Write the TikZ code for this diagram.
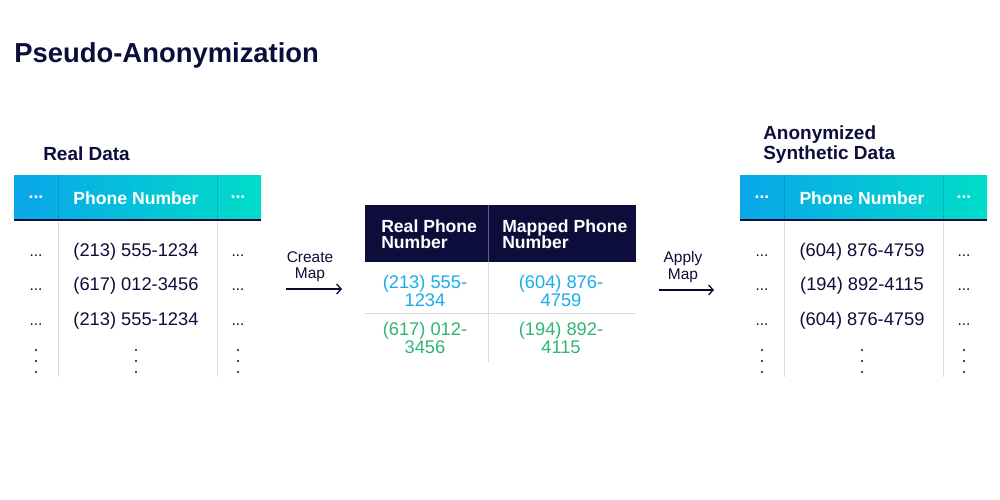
\documentclass[tikz,border=0pt]{standalone}
\usepackage{fontspec}
\setmainfont{Liberation Sans}
\usetikzlibrary{arrows.meta}
\definecolor{navy}{HTML}{0D0D3B}
\definecolor{hdleft}{HTML}{0AA6EA}
\definecolor{hdright}{HTML}{00DDC9}
\definecolor{rulegray}{HTML}{D9DBE2}
\definecolor{mapblue}{HTML}{1AADEE}
\definecolor{mapgreen}{HTML}{30B478}

\begin{document}
\begin{tikzpicture}[x=0.025cm, y=-0.025cm,
    txt/.style={text=navy, inner sep=0pt, font=\fontsize{13}{15}\selectfont},
    hdtxt/.style={text=white, inner sep=0pt, font=\bfseries\fontsize{12.5}{15}\selectfont},
    ttl/.style={text=navy, inner sep=0pt, anchor=north west, align=left, font=\bfseries\fontsize{13.5}{14.5}\selectfont},
    maptxt/.style={inner sep=0pt, anchor=north, align=center, font=\fontsize{13}{12.5}\selectfont},
    lbl/.style={text=navy, inner sep=0pt, align=center, font=\fontsize{11}{11.5}\selectfont},
    grid/.style={draw=rulegray, line width=0.6pt},
    hdsep/.style={draw=black, draw opacity=0.12, line width=0.6pt},
    arr/.style={-{Straight Barb[length=3.2pt,width=7pt]}, navy!80!black, line width=0.9pt}]
    \useasboundingbox[fill=white] (0,0) rectangle (1000,500);

    \node[anchor=base west, text=navy, inner sep=0pt, font=\bfseries\fontsize{19.5}{22}\selectfont] (title) at (14,62) {Pseudo-Anonymization};

    % the two data tables
    \foreach \dx/\k in {0/l,726/r}{
        \fill[left color=hdleft, right color=hdright] (14+\dx,175) rectangle (261+\dx,219);
        \draw[hdsep] (58+\dx,175) -- (58+\dx,219);
        \draw[hdsep] (217+\dx,175) -- (217+\dx,219);
        \draw[navy, line width=1.2pt] (14+\dx,220) -- (261+\dx,220);
        \draw[grid] (58+\dx,222) -- (58+\dx,377);
        \draw[grid] (217+\dx,222) -- (217+\dx,377);
        \node[hdtxt] (\k-h1) at (36+\dx,197) {...};
        \node[hdtxt, anchor=base] (\k-h2) at (136+\dx,204) {Phone Number};
        \node[hdtxt] (\k-h3) at (238+\dx,197) {...};
        \foreach \y [count=\r] in {256,290,325}{
            \node[txt, anchor=base, font=\fontsize{11}{13}\selectfont] (\k-a\r) at (36+\dx,\y) {...};
            \node[txt, anchor=base, font=\fontsize{11}{13}\selectfont] (\k-c\r) at (238+\dx,\y) {...};
        }
        \foreach \xx in {36,136,238}
            \foreach \y in {350,361,372}
                \fill[navy] (\xx+\dx,\y) circle (0.85pt);
    }
    \node[ttl, anchor=base west] (realdata) at (43,160) {Real Data};
    \node[txt, anchor=base] (l-p1) at (136,256) {(213) 555-1234};
    \node[txt, anchor=base] (l-p2) at (136,290) {(617) 012-3456};
    \node[txt, anchor=base] (l-p3) at (136,325) {(213) 555-1234};

    \node[ttl] (synth) at (763,125) {Anonymized\\Synthetic Data};
    \node[txt, anchor=base] (r-p1) at (862,256) {(604) 876-4759};
    \node[txt, anchor=base] (r-p2) at (862,290) {(194) 892-4115};
    \node[txt, anchor=base] (r-p3) at (862,325) {(604) 876-4759};

    % mapping table
    \fill[navy] (365,205) rectangle (636,262);
    \draw[draw=white, draw opacity=0.35, line width=0.6pt] (488,205) -- (488,262);
    \draw[grid] (488,262) -- (488,362);
    \draw[grid] (365,313) -- (636,313);
    \node[ttl, text=white, font=\bfseries\fontsize{12.5}{12}\selectfont] (m-h1) at (381,219) {Real Phone\\Number};
    \node[ttl, text=white, font=\bfseries\fontsize{12.5}{12}\selectfont] (m-h2) at (502,219) {Mapped Phone\\Number};
    \node[maptxt, text=mapblue] (m-r1) at (425,275) {(213) 555-\\1234};
    \node[maptxt, text=mapblue] (m-m1) at (561,275) {(604) 876-\\4759};
    \node[maptxt, text=mapgreen] (m-r2) at (425,322) {(617) 012-\\3456};
    \node[maptxt, text=mapgreen] (m-m2) at (561,322) {(194) 892-\\4115};

    % arrows
    \coordinate (cm-a) at (286,289);
    \coordinate (cm-b) at (342,289);
    \draw[arr] (cm-a) -- (cm-b);
    \node[lbl] (cm) at (310,267) {Create\\Map};
    \coordinate (am-a) at (659,290);
    \coordinate (am-b) at (714,290);
    \draw[arr] (am-a) -- (am-b);
    \node[lbl] (am) at (683,267) {Apply\\Map};
\end{tikzpicture}
\end{document}
